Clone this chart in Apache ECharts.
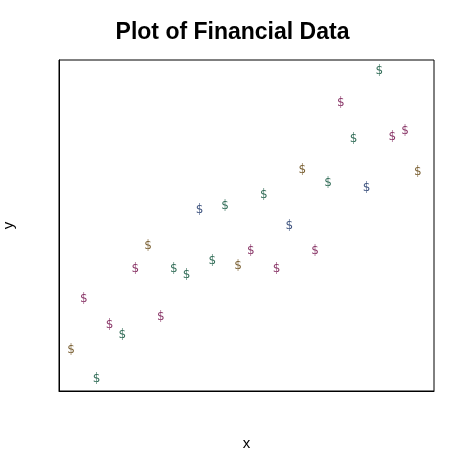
<!DOCTYPE html><html><head><meta charset="utf-8">
<script src="https://cdn.jsdelivr.net/npm/echarts@6/dist/echarts.min.js"></script>
<style>html,body{margin:0;background:#fff}#c{width:465px;height:465px}</style></head><body><div id="c"></div>
<script>
const xs=[1,2,3,4,5,6,7,8,9,10,11,12,13,14,15,16,17,18,19,20,21,22,23,24,25,26,27,28];
const ys=[41,92,12,66,56,122,145,74,122,116,181,130,185,125,140,196,122,165,221,140,208,288,252,203,320,254,260,219];
const groups=['o','p','g','p','g','p','o','p','g','g','b','g','g','o','p','g','p','b','o','p','g','p','g','b','g','p','p','o'];
const palette={o:'#5a3a00',p:'#6a0040',g:'#004a30',b:'#102a60'};
const ch=echarts.init(document.getElementById('c'));
ch.setOption({
 animation:false,
 title:{text:'Plot of Financial Data',left:'center',top:16,textStyle:{fontFamily:'Liberation Sans',fontWeight:'bold',fontSize:23,color:'#000'}},
 grid:{left:59,right:31,top:60,bottom:74,containLabel:false,outerBoundsMode:'none'},
 xAxis:{type:'value',min:0.07,max:29.25,name:'x',nameLocation:'middle',nameGap:45,nameTextStyle:{fontFamily:'Liberation Sans',fontSize:15,color:'#000'},
  axisLine:{show:true,onZero:false,lineStyle:{color:'#000'}},axisTick:{show:false},axisLabel:{show:false},splitLine:{show:false}},
 yAxis:{type:'value',min:0,max:331,name:'y',nameLocation:'middle',nameGap:43,nameRotate:90,nameTextStyle:{fontFamily:'Liberation Sans',fontSize:15,color:'#000'},
  axisLine:{show:true,lineStyle:{color:'#000'}},axisTick:{show:false},axisLabel:{show:false},splitLine:{show:false}},
 series:[
  {type:'scatter',data:[],markArea:{silent:true,itemStyle:{color:'transparent',borderColor:'#000',borderWidth:1},data:[[{xAxis:0.07,yAxis:0},{xAxis:29.25,yAxis:331}]]}},
  {type:'scatter',symbolSize:0,
  data:xs.map((x,i)=>({value:[x,ys[i]],label:{color:palette[groups[i]]}})),
  label:{show:true,position:'inside',formatter:'$',fontFamily:'DejaVu Sans',fontSize:12}}]
});
</script></body></html>
